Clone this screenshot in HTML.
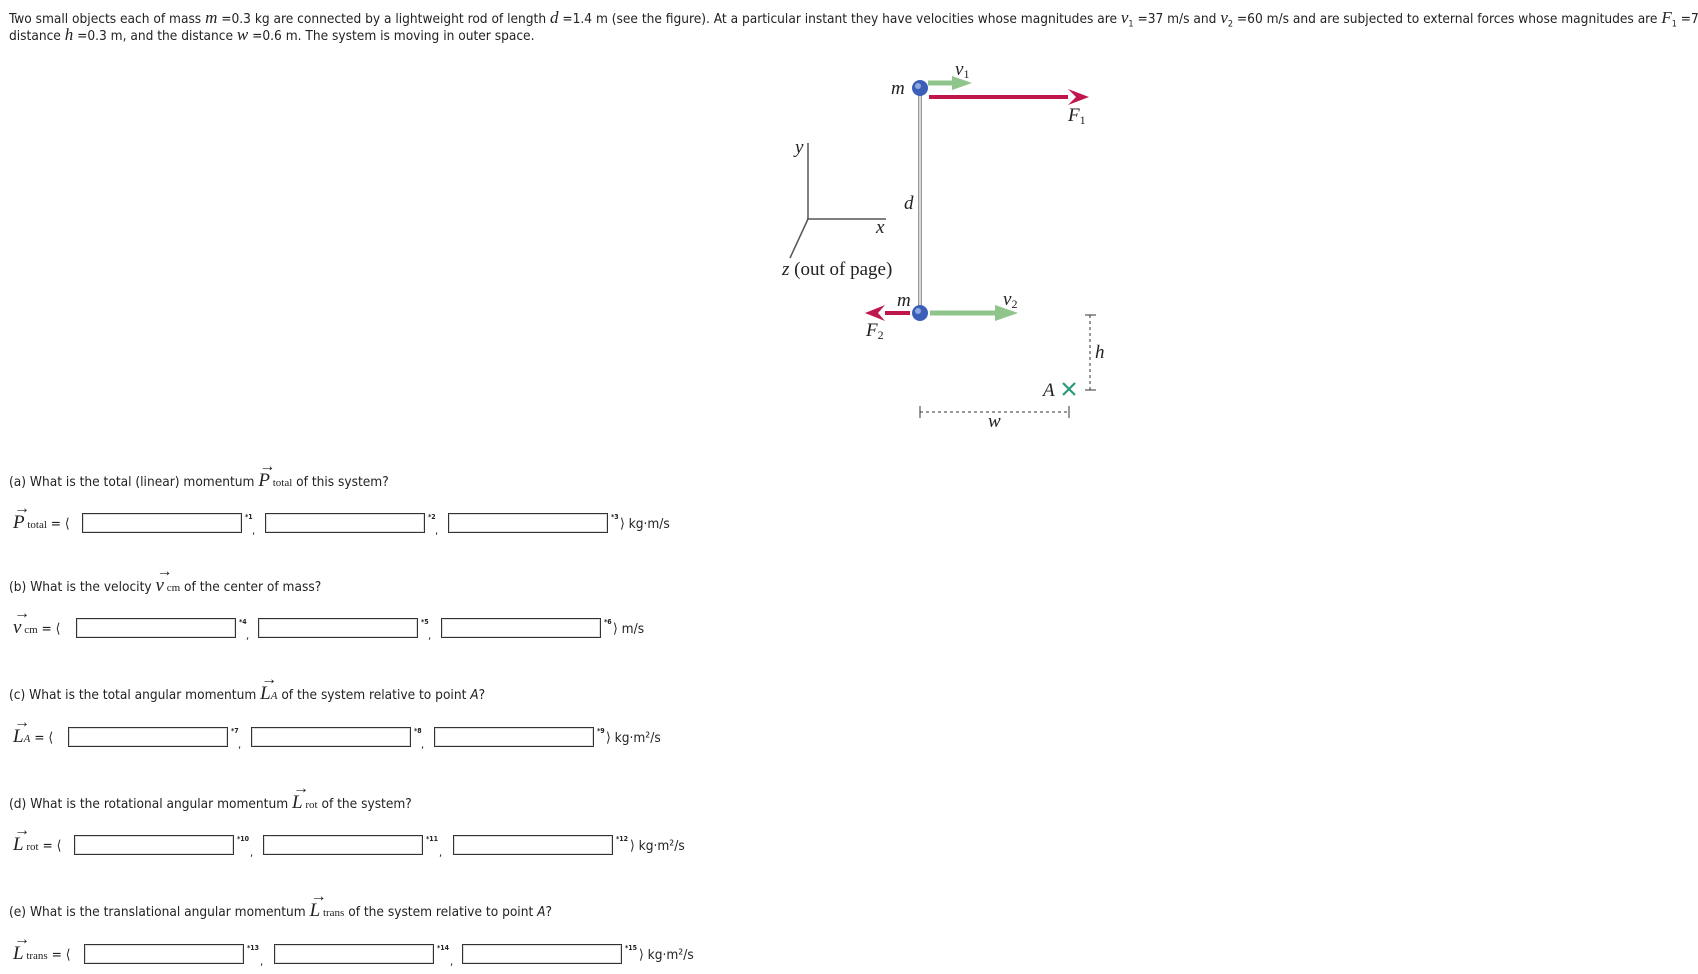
<!DOCTYPE html>
<html><head><meta charset="utf-8"><style>
body{margin:0;width:1698px;height:974px;overflow:hidden;background:#fff;font-family:"DejaVu Sans Condensed","Liberation Sans",sans-serif;font-size:13.6px;color:#222;position:relative}
.a{position:absolute;white-space:nowrap}
.m{font-family:"Liberation Serif",serif;font-style:italic;font-size:17px}
.v{position:relative;display:inline-block;font-family:"Liberation Serif",serif;font-style:italic;font-size:19px}
.v:before{content:"→";position:absolute;top:-12px;left:1px;font-style:normal;font-size:16px}
.s{font-family:"Liberation Serif",serif;font-size:11px;font-style:normal}
.b{position:absolute;width:158px;height:18px;border:1px solid #333;box-shadow:inset 0 0 0 1px #ddd}
.n{position:absolute;font-size:7px;font-weight:bold}
.c{position:absolute;font-size:11px}
</style></head><body>
<div class="a" style="left:9px;top:8px">Two small objects each of mass <span class="m">m</span> =0.3 kg are connected by a lightweight rod of length <span class="m">d</span> =1.4 m (see the figure). At a particular instant they have velocities whose magnitudes are <span class="m">v</span><sub style="font-size:9px">1</sub> =37 m/s and <span class="m">v</span><sub style="font-size:9px">2</sub> =60 m/s and are subjected to external forces whose magnitudes are <span class="m">F</span><sub style="font-size:9px">1</sub> =71 N and</div>
<div class="a" style="left:9px;top:25px">distance <span class="m">h</span> =0.3 m, and the distance <span class="m">w</span> =0.6 m. The system is moving in outer space.</div>

<svg class="a" style="left:0;top:0" width="1698" height="460">
<g font-family="Liberation Serif" font-style="italic" font-size="19" fill="#222">
<line x1="808" y1="143" x2="808" y2="219" stroke="#555" stroke-width="1.5"/>
<line x1="807" y1="219" x2="886" y2="219" stroke="#555" stroke-width="1.5"/>
<line x1="808" y1="219" x2="790" y2="258" stroke="#555" stroke-width="1.5"/>
<text x="795" y="153">y</text><text x="876" y="233">x</text>
<text x="782" y="275">z <tspan font-style="normal">(out of page)</tspan></text>
<line x1="920" y1="90" x2="920" y2="312" stroke="#999" stroke-width="4"/>
<line x1="920" y1="90" x2="920" y2="312" stroke="#eee" stroke-width="1.5"/>
<line x1="928" y1="83" x2="955" y2="83" stroke="#8fc48a" stroke-width="5"/><polygon points="952,76 972,83 952,90" fill="#8fc48a"/>
<line x1="929" y1="97" x2="1080" y2="97" stroke="#c0164c" stroke-width="4"/><polygon points="1068,89 1089,97 1068,105" fill="#c0164c"/><polygon points="1068,89 1076,97 1068,105" fill="#fff"/>
<line x1="930" y1="313" x2="995" y2="313" stroke="#8fc48a" stroke-width="5"/><polygon points="995,305 1018,313 995,321" fill="#8fc48a"/>
<line x1="910" y1="313" x2="880" y2="313" stroke="#c0164c" stroke-width="4"/><polygon points="885,305 865,313 885,321" fill="#c0164c"/><polygon points="885,305 878,313 885,321" fill="#fff"/>
<circle cx="920" cy="88" r="8" fill="#3b5fb8"/><circle cx="918" cy="86" r="3" fill="#8fa8e0"/>
<circle cx="920" cy="313" r="8" fill="#3b5fb8"/><circle cx="918" cy="311" r="3" fill="#8fa8e0"/>
<text x="891" y="94">m</text><text x="897" y="306">m</text><text x="904" y="209">d</text>
<text x="955" y="75" >v<tspan font-size="12" font-style="normal" dy="3">1</tspan></text>
<text x="1068" y="121">F<tspan font-size="12" font-style="normal" dy="3">1</tspan></text>
<text x="1003" y="305">v<tspan font-size="12" font-style="normal" dy="3">2</tspan></text>
<text x="866" y="336">F<tspan font-size="12" font-style="normal" dy="3">2</tspan></text>
<line x1="1090" y1="315" x2="1090" y2="390" stroke="#333" stroke-dasharray="3,3"/>
<line x1="1085" y1="315" x2="1096" y2="315" stroke="#333"/><line x1="1085" y1="390" x2="1096" y2="390" stroke="#333"/>
<text x="1095" y="358">h</text>
<text x="1043" y="396">A</text>
<path d="M1063 383 L1075 395 M1075 383 L1063 395" stroke="#2a9a7a" stroke-width="2.2"/>
<line x1="920" y1="412" x2="1069" y2="412" stroke="#333" stroke-dasharray="3,3"/>
<line x1="920" y1="406" x2="920" y2="418" stroke="#333"/><line x1="1069" y1="406" x2="1069" y2="418" stroke="#333"/>
<text x="988" y="427">w</text>
</g></svg>

<div class="a" style="left:9px;top:470px">(a) What is the total (linear) momentum <span class="v">P</span><span class="s"> total</span> of this system?</div>
<div class="a" style="left:13px;top:512px"><span class="v">P</span><span class="s"> total</span> = ⟨</div>
<div class="b" style="left:82px;top:513px"></div><div class="n" style="left:245px;top:513px">*1</div><div class="c" style="left:252px;top:524px">,</div>
<div class="b" style="left:265px;top:513px"></div><div class="n" style="left:428px;top:513px">*2</div><div class="c" style="left:435px;top:524px">,</div>
<div class="b" style="left:448px;top:513px"></div><div class="n" style="left:611px;top:513px">*3</div><div class="a" style="left:620px;top:516px">⟩ kg·m/s</div>

<div class="a" style="left:9px;top:575px">(b) What is the velocity <span class="v">v</span><span class="s"> cm</span> of the center of mass?</div>
<div class="a" style="left:13px;top:617px"><span class="v">v</span><span class="s"> cm</span> = ⟨</div>
<div class="b" style="left:76px;top:618px"></div><div class="n" style="left:239px;top:618px">*4</div><div class="c" style="left:246px;top:629px">,</div>
<div class="b" style="left:258px;top:618px"></div><div class="n" style="left:421px;top:618px">*5</div><div class="c" style="left:428px;top:629px">,</div>
<div class="b" style="left:441px;top:618px"></div><div class="n" style="left:604px;top:618px">*6</div><div class="a" style="left:613px;top:621px">⟩ m/s</div>

<div class="a" style="left:9px;top:683px">(c) What is the total angular momentum <span class="v">L</span><span class="s"><i>A</i></span> of the system relative to point <i>A</i>?</div>
<div class="a" style="left:13px;top:726px"><span class="v">L</span><span class="s"><i>A</i></span> = ⟨</div>
<div class="b" style="left:68px;top:727px"></div><div class="n" style="left:231px;top:727px">*7</div><div class="c" style="left:238px;top:738px">,</div>
<div class="b" style="left:251px;top:727px"></div><div class="n" style="left:414px;top:727px">*8</div><div class="c" style="left:421px;top:738px">,</div>
<div class="b" style="left:434px;top:727px"></div><div class="n" style="left:597px;top:727px">*9</div><div class="a" style="left:606px;top:730px">⟩ kg·m²/s</div>

<div class="a" style="left:9px;top:792px">(d) What is the rotational angular momentum <span class="v">L</span><span class="s"> rot</span> of the system?</div>
<div class="a" style="left:13px;top:834px"><span class="v">L</span><span class="s"> rot</span> = ⟨</div>
<div class="b" style="left:74px;top:835px"></div><div class="n" style="left:237px;top:835px">*10</div><div class="c" style="left:250px;top:846px">,</div>
<div class="b" style="left:263px;top:835px"></div><div class="n" style="left:426px;top:835px">*11</div><div class="c" style="left:439px;top:846px">,</div>
<div class="b" style="left:453px;top:835px"></div><div class="n" style="left:616px;top:835px">*12</div><div class="a" style="left:630px;top:838px">⟩ kg·m²/s</div>

<div class="a" style="left:9px;top:900px">(e) What is the translational angular momentum <span class="v">L</span><span class="s"> trans</span> of the system relative to point <i>A</i>?</div>
<div class="a" style="left:13px;top:943px"><span class="v">L</span><span class="s"> trans</span> = ⟨</div>
<div class="b" style="left:84px;top:944px"></div><div class="n" style="left:247px;top:944px">*13</div><div class="c" style="left:260px;top:955px">,</div>
<div class="b" style="left:274px;top:944px"></div><div class="n" style="left:437px;top:944px">*14</div><div class="c" style="left:450px;top:955px">,</div>
<div class="b" style="left:462px;top:944px"></div><div class="n" style="left:625px;top:944px">*15</div><div class="a" style="left:639px;top:947px">⟩ kg·m²/s</div>
</body></html>
